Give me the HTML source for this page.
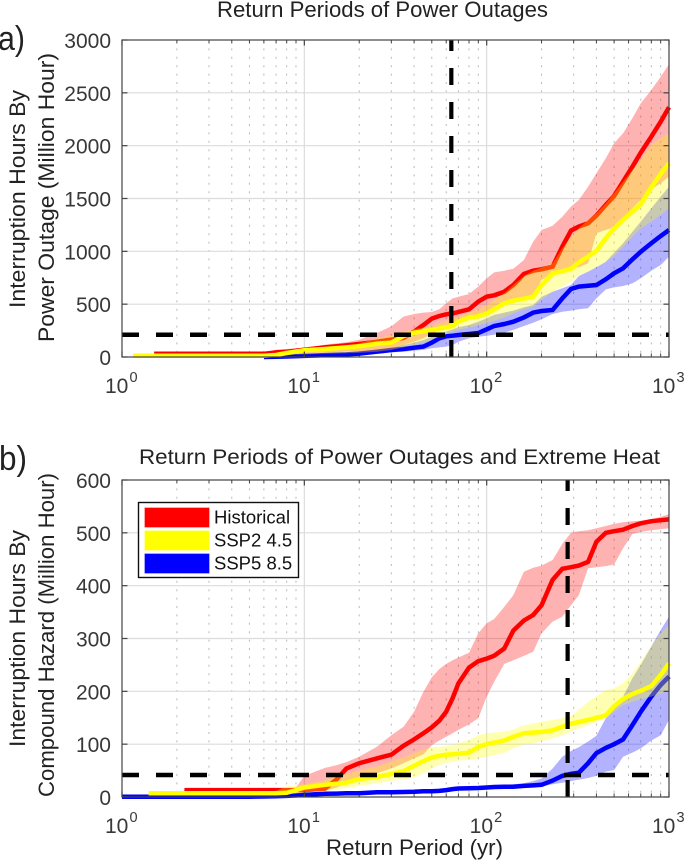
<!DOCTYPE html>
<html>
<head>
<meta charset="utf-8">
<title>Return Periods of Power Outages</title>
<style>
html,body{margin:0;padding:0;background:#fff;width:685px;height:860px;overflow:hidden}
svg{display:block}
text{font-family:"Liberation Sans",sans-serif}
</style>
</head>
<body>
<svg id="fig" width="685" height="860" viewBox="0 0 685 860" xmlns="http://www.w3.org/2000/svg">
<text x="-2" y="50" font-size="34" fill="#222" textLength="27" lengthAdjust="spacingAndGlyphs">a)</text>
<text x="-1" y="470" font-size="34" fill="#222" textLength="28" lengthAdjust="spacingAndGlyphs">b)</text>
<text x="217" y="17" font-size="22" fill="#222" textLength="331" lengthAdjust="spacingAndGlyphs">Return Periods of Power Outages</text>
<text x="139" y="464" font-size="21" fill="#222" textLength="521" lengthAdjust="spacingAndGlyphs">Return Periods of Power Outages and Extreme Heat</text>
<text x="326" y="855" font-size="22" fill="#222" textLength="177" lengthAdjust="spacingAndGlyphs">Return Period (yr)</text>
<text transform="translate(25,308) rotate(-90)" font-size="22" fill="#222" textLength="218" lengthAdjust="spacingAndGlyphs">Interruption Hours By</text>
<text transform="translate(54,342) rotate(-90)" font-size="22" fill="#222" textLength="289" lengthAdjust="spacingAndGlyphs">Power Outage (Million Hour)</text>
<text transform="translate(25,747) rotate(-90)" font-size="22" fill="#222" textLength="217" lengthAdjust="spacingAndGlyphs">Interruption Hours By</text>
<text transform="translate(54,797) rotate(-90)" font-size="22" fill="#222" textLength="324" lengthAdjust="spacingAndGlyphs">Compound Hazard (Million Hour)</text>
</svg>
<script>
// Panel A data: return period (yr) and interruption hours (million hour)
var periodsA = [1.15,1.5,2,3,4,5,6,7,8,10,13,17,20,25,30,35,40,45,50,55,60,65,70,80,90,100,110,125,140,160,180,200,230,260,290,320,360,400,450,500,560,630,700,800,900,1000];
var histA = [null,30,30,30,30,30,30,44,50,69,91,110,123,145,165,180,240,303,363,388,404,413,426,451,524,571,584,618,681,786,817,830,855,1044,1196,1234,1265,1338,1439,1524,1660,1801,1934,2085,2227,2363];
var histHighA = [null,35,35,35,35,35,35,70,76,85,117,139,164,227,290,382,407,420,426,451,508,555,571,596,666,745,801,817,836,918,1092,1202,1243,1328,1423,1486,1612,1738,1880,2022,2117,2259,2401,2527,2653,2770];
var histLowA = [null,25,25,25,25,25,25,25,30,35,40,50,55,60,73,114,145,177,218,256,287,319,334,366,398,429,451,492,514,533,587,729,792,817,839,849,887,1171,1202,1227,1312,1407,1486,1587,1644,1707];
var ssp2A = [12,12,12,12,12,12,12,19,38,63,76,91,101,126,136,199,230,243,256,268,281,293,334,372,385,410,451,508,533,552,571,681,792,811,836,893,950,1006,1123,1218,1297,1376,1448,1606,1732,1833];
var ssp2HighA = [15,15,15,15,15,15,15,25,45,60,75,95,130,175,208,240,262,278,293,319,341,357,382,420,451,492,540,603,681,767,817,846,887,1029,1139,1218,1297,1360,1454,1549,1660,1770,1865,2007,2070,2117];
var ssp2LowA = [10,10,10,10,10,10,10,12,18,25,30,35,40,50,66,91,114,136,161,192,218,240,256,278,300,319,344,375,413,451,476,540,618,666,713,776,808,849,902,956,1044,1139,1218,1281,1344,1407];
var ssp5A = [null,null,null,null,null,null,0,3,5,10,18,25,32,50,66,76,88,98,136,177,196,202,208,218,227,262,293,312,334,375,420,435,445,555,644,666,675,681,735,792,839,924,997,1076,1145,1202];
var ssp5HighA = [null,null,null,null,null,null,0,8,10,18,30,40,50,65,82,114,136,161,192,218,240,262,281,303,334,366,398,420,439,470,492,571,618,650,681,767,808,849,902,987,1076,1186,1281,1407,1518,1612];
var ssp5LowA = [null,null,null,null,null,null,0,1,2,3,6,10,15,30,44,50,60,69,82,91,98,114,145,177,192,202,211,230,256,293,325,357,407,429,439,451,461,555,640,659,672,697,745,817,871,950];

// Panel B data
var periodsB = [1,1.4,2.2,3,4,5,6,7,8,9,10,13,15,17,20,25,30,35,40,45,50,55,60,65,70,80,90,100,110,125,140,160,180,200,230,260,290,320,360,400,450,500,560,630,700,800,900,1000];
var histB = [null,null,13,13,13,13,13,13,13,13,13,16,33,54,64,73,80,97,109,120.5,132,144.5,161.5,187,215,245,257,262,267.5,281,315,334,344.5,363,411,432,435,438,445,483,500,503,506,513,518,522,524,525.5];
var histHighB = [null,null,14,14,14,14,14,14,14,18,40,55,60,66,76,95,117,133,161.5,199,226.5,242,252,259,264,273,310,329,337,360,382,426.5,434,438,448.5,479,500,503,505,508.5,513,517,520,522,523,525.5,530.5,535];
var histLowB = [null,null,12,12,12,12,12,12,12,12,10,12,18,25,35,45,54,64,73,81,98,107,114,120.5,127,137.5,149,190,218,252,259,267,275,310,332,341,363,382,433,435,437,440,471,498,501.5,505,507,508.5];
var ssp2B = [null,7,7,7,7,7,7,7,8,13,18,23,25,27,34,38,43.5,49,59,68,75,78,80,81,82,84,95,100,103,107,114,120.5,122,123,126,133,139,142,146,149.5,154.5,172,185.5,195,201,210,231,253];
var ssp2HighB = [null,9,9,9,9,9,9,12,20,22,24,32,38,44,50,58,67,75,83,90,94,95,96.5,98,101.5,108,117,120.5,122,124,128,136,139,142.5,146,149,153,165,180,191,202.5,206,215,234,256,286,310,325.5];
var ssp2LowB = [null,5,5,5,5,5,5,5,5,6,8,12,14,17,21,26,31,33,37,45,54,60.5,64,67,69,70,73,76,79.5,84,92,100,101.5,105,111,117,124,130,136,142.5,149,161.5,174,180,185,190,196,202.5];
var ssp5B = [0.5,0.5,0.5,0.5,0.5,0.5,1,1.5,2,3,4,6,6.5,7,7,9,9,9.5,10,11,11,11.5,13,15,16,16.5,17,18,19,19.5,19.5,21,22,23,31,40,44,46,64,83,93,100,109,136,161.5,190,212,228];
var ssp5HighB = [1,1,1,1,1,1,2,3,3,4,5,7,8,8,9,10,10,11,12,13,13,13,15,17,18,19,20,21,22,23,24,26,30,35,54,76,87,94,105,116,149,170,190,225,250,285,316,341];
var ssp5LowB = [0,0,0,0,0,0,0.5,1,1,2,3,4,5,5,5,7,8,8,9,9,9,10,11,13,14,15,15,16,17,17,17,18,19,20,24,27,30,33,36,40,48,51,76,84,92,107,117,146];

// Axis tick labels and reference values
var yTicksA = [0,500,1000,1500,2000,2500,3000];
var yTicksB = [0,100,200,300,400,500,600];
var xDecades = [0,1,2,3];
var thresholdA = {period:64, hours:211};
var thresholdB = {period:278, hours:41.6};
var legendLabels = ["Historical","SSP2 4.5","SSP5 8.5"];

var NS = 'http://www.w3.org/2000/svg';
var fig = document.getElementById('fig');
var PLOT_LEFT = 122, PLOT_RIGHT = 669;

function xScale(t){ return PLOT_LEFT + (PLOT_RIGHT-PLOT_LEFT)*Math.log10(t)/3; }

function mk(tag, parent, attrs){
  var e = document.createElementNS(NS, tag);
  for (var k in attrs) e.setAttribute(k, attrs[k]);
  parent.appendChild(e);
  return e;
}

function drawBand(g, yScale, ts, hi, lo, color, name){
  var up = [], dn = [];
  for (var i=0;i<ts.length;i++){
    if (hi[i]===null || lo[i]===null) continue;
    up.push(xScale(ts[i]).toFixed(1)+','+yScale(hi[i]).toFixed(1));
    dn.unshift(xScale(ts[i]).toFixed(1)+','+yScale(lo[i]).toFixed(1));
  }
  var el = mk('polygon', g, {points: up.concat(dn).join(' '), fill: color, 'fill-opacity': 0.3, stroke:'none'});
  
  
}

function drawLine(g, yScale, ts, vals, color, name){
  var pts = [];
  for (var i=0;i<ts.length;i++){
    if (vals[i]===null) continue;
    pts.push(xScale(ts[i]).toFixed(1)+','+yScale(vals[i]).toFixed(1));
  }
  var el = mk('polyline', g, {points: pts.join(' '), fill:'none', stroke: color, 'stroke-width': 4.5, 'stroke-linejoin':'miter'});
  
  
}

function drawPanel(prefix, top, bottom, yMax, yTicks, ts, series, thr){
  var g = mk('g', fig, {});
  
  
  var yScale = function(v){ return bottom - (bottom-top)*v/yMax; };
  var i, d, m, x, y, el;

  // minor vertical dotted grid
  for (d=0;d<3;d++){
    for (m=2;m<=9;m++){
      x = xScale(m*Math.pow(10,d));
      el = mk('line', g, {x1:x,x2:x,y1:top,y2:bottom,stroke:'#b8b8b8','stroke-width':1,'stroke-dasharray':'2 6.4'});
      
      
      mk('line', g, {x1:x,x2:x,y1:top,y2:top+3.5,stroke:'#444','stroke-width':1});
      mk('line', g, {x1:x,x2:x,y1:bottom,y2:bottom-3.5,stroke:'#444','stroke-width':1});
    }
  }
  // major grid
  for (i=1;i<xDecades.length-1;i++){
    x = xScale(Math.pow(10,xDecades[i]));
    el = mk('line', g, {x1:x,x2:x,y1:top,y2:bottom,stroke:'#dcdcdc','stroke-width':1.2});
    
    
  }
  for (i=1;i<yTicks.length-1;i++){
    y = yScale(yTicks[i]);
    el = mk('line', g, {x1:PLOT_LEFT,x2:PLOT_RIGHT,y1:y,y2:y,stroke:'#dcdcdc','stroke-width':1.2});
    
    
  }

  // series (blue first, then red, then yellow)
  for (i=0;i<series.length;i++){
    var s = series[i];
    drawBand(g, yScale, ts, s.hi, s.lo, s.color, s.name+'-range');
    drawLine(g, yScale, ts, s.mid, s.color, s.name+'-line');
  }

  // threshold lines
  var xv = xScale(thr.period), yh = yScale(thr.hours);
  el = mk('line', g, {x1:PLOT_LEFT,x2:PLOT_RIGHT,y1:yh,y2:yh,stroke:'#000','stroke-width':4.5,'stroke-dasharray':'17 17'});
  
  
  el = mk('line', g, {x1:xv,x2:xv,y1:bottom,y2:top,stroke:'#000','stroke-width':4.2,'stroke-dasharray':'17 17'});
  
  

  // axes box
  el = mk('rect', g, {x:PLOT_LEFT,y:top,width:PLOT_RIGHT-PLOT_LEFT,height:bottom-top,fill:'none',stroke:'#444','stroke-width':1.2});
  
  

  // y ticks + labels
  for (i=0;i<yTicks.length;i++){
    y = yScale(yTicks[i]);
    mk('line', g, {x1:PLOT_LEFT,x2:PLOT_LEFT+5.5,y1:y,y2:y,stroke:'#444','stroke-width':1.2});
    mk('line', g, {x1:PLOT_RIGHT,x2:PLOT_RIGHT-5.5,y1:y,y2:y,stroke:'#444','stroke-width':1.2});
    el = mk('text', g, {x:111,y:y+8,'font-size':21,fill:'#383838','text-anchor':'end'});
    el.textContent = String(yTicks[i]);
    
    
  }
  // x ticks + labels
  for (i=0;i<xDecades.length;i++){
    x = xScale(Math.pow(10,xDecades[i]));
    mk('line', g, {x1:x,x2:x,y1:top,y2:top+5.5,stroke:'#444','stroke-width':1.2});
    mk('line', g, {x1:x,x2:x,y1:bottom,y2:bottom-5.5,stroke:'#444','stroke-width':1.2});
    el = mk('text', g, {x:x-17,y:bottom+36,'font-size':21,fill:'#383838'});
    el.textContent = '10';
    
    
    el = mk('text', g, {x:x+7.5,y:bottom+25,'font-size':14.5,fill:'#383838'});
    el.textContent = String(xDecades[i]);
    
    
  }
}

drawPanel('panel-a', 40, 357, 3000, yTicksA, periodsA, [
  {mid:ssp5A, hi:ssp5HighA, lo:ssp5LowA, color:'#0000ff', name:'ssp5-8-5-a'},
  {mid:histA, hi:histHighA, lo:histLowA, color:'#ff0000', name:'historical-a'},
  {mid:ssp2A, hi:ssp2HighA, lo:ssp2LowA, color:'#ffff00', name:'ssp2-4-5-a'}
], thresholdA);

drawPanel('panel-b', 480, 797, 600, yTicksB, periodsB, [
  {mid:ssp5B, hi:ssp5HighB, lo:ssp5LowB, color:'#0000ff', name:'ssp5-8-5-b'},
  {mid:histB, hi:histHighB, lo:histLowB, color:'#ff0000', name:'historical-b'},
  {mid:ssp2B, hi:ssp2HighB, lo:ssp2LowB, color:'#ffff00', name:'ssp2-4-5-b'}
], thresholdB);

// legend
var legendColors = ['#ff0000','#ffff00','#0000ff'];
var lg = mk('g', fig, {});


var lbox = mk('rect', lg, {x:138.5,y:502.5,width:160,height:75,fill:'#fff',stroke:'#111','stroke-width':1.4});


for (var li=0;li<legendLabels.length;li++){
  var ly = 507.5 + li*23;
  var sw = mk('rect', lg, {x:144.5,y:ly,width:65,height:20,fill:legendColors[li],stroke:'rgba(255,255,255,0.3)','stroke-width':1});
  
  
  var lt = mk('text', lg, {x:214,y:ly+16,'font-size':18.5,fill:'#111'});
  lt.textContent = legendLabels[li];
  
  
}
</script>
</body>
</html>
